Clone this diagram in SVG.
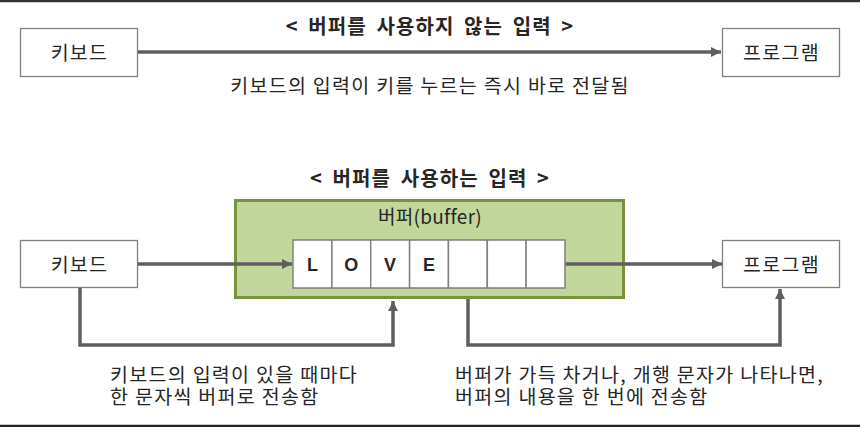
<svg xmlns="http://www.w3.org/2000/svg" width="860" height="427" viewBox="0 0 860 427">
<style>
text{font-family:"Noto Sans CJK KR","Noto Sans",sans-serif;fill:#262626;font-size:19.5px;letter-spacing:1.3px}
.t{font-weight:bold;text-anchor:middle;font-size:20px;word-spacing:4px;letter-spacing:1.1px}
.c{text-anchor:middle}
.box{fill:#fff;stroke:#808080;stroke-width:1.3}
.cell{fill:#fff;stroke:#808080;stroke-width:1.5}
.ltr{font-family:"Liberation Sans",Arial,sans-serif;font-weight:bold;font-size:18px;text-anchor:middle;letter-spacing:0}
.con{fill:none;stroke:#5f5f5f;stroke-width:3.5}
</style>
<defs>
<marker id="ah" markerUnits="userSpaceOnUse" markerWidth="11" markerHeight="11" refX="10" refY="5" orient="auto">
<path d="M0,0 L10,5 L0,10 z" fill="#5f5f5f"/>
</marker>
</defs>
<rect width="860" height="427" fill="#fff"/>
<line x1="0" y1="1" x2="860" y2="1" stroke="#333" stroke-width="2.5"/>
<line x1="0" y1="426" x2="860" y2="426" stroke="#222" stroke-width="2.5"/>

<text class="t" x="430" y="34">&lt; 버퍼를 사용하지 않는 입력 &gt;</text>
<text class="c" x="430" y="93">키보드의 입력이 키를 누르는 즉시 바로 전달됨</text>
<text class="t" x="430" y="186">&lt; 버퍼를 사용하는 입력 &gt;</text>

<g id="kbd1"><rect class="box" x="20.5" y="28.5" width="117" height="48"/><text class="c" x="79.5" y="59.5">키보드</text></g>
<g id="prog1"><rect class="box" x="722.5" y="28.5" width="117" height="48"/><text class="c" x="781.5" y="59.5">프로그램</text></g>

<g id="buffer">
<rect x="235.5" y="200.5" width="388" height="97" fill="#c3d69b" stroke="#77933c" stroke-width="3"/>
<text class="c" x="430" y="224" style="font-size:19px;letter-spacing:0.3px">버퍼(buffer)</text>
</g>

<g id="kbd2"><rect class="box" x="20.5" y="240.5" width="117" height="47"/><text class="c" x="79.5" y="271.5">키보드</text></g>
<g id="prog2"><rect class="box" x="722.5" y="240.5" width="117" height="47"/><text class="c" x="781.5" y="271.5">프로그램</text></g>

<g id="connectors">
<path class="con" d="M138,52 H721" marker-end="url(#ah)"/>
<path class="con" d="M138,264 H292" marker-end="url(#ah)"/>
<path class="con" d="M565,264 H722" marker-end="url(#ah)"/>
<path class="con" d="M80,288 V345 H393 V301" marker-end="url(#ah)"/>
<path class="con" d="M468,299 V345 H780 V289" marker-end="url(#ah)"/>
</g>

<g id="cells">
<rect class="cell" x="293" y="240" width="38.9" height="48"/>
<rect class="cell" x="331.9" y="240" width="38.9" height="48"/>
<rect class="cell" x="370.7" y="240" width="38.9" height="48"/>
<rect class="cell" x="409.6" y="240" width="38.9" height="48"/>
<rect class="cell" x="448.4" y="240" width="38.9" height="48"/>
<rect class="cell" x="487.3" y="240" width="38.9" height="48"/>
<rect class="cell" x="526.1" y="240" width="38.9" height="48"/>
<text class="ltr" x="312.4" y="270.5">L</text>
<text class="ltr" x="351.3" y="270.5">O</text>
<text class="ltr" x="390.1" y="270.5">V</text>
<text class="ltr" x="429" y="270.5">E</text>
</g>

<g id="note1">
<text x="110" y="382">키보드의 입력이 있을 때마다</text>
<text x="110" y="404">한 문자씩 버퍼로 전송함</text>
</g>
<g id="note2">
<text x="455" y="382">버퍼가 가득 차거나, 개행 문자가 나타나면,</text>
<text x="455" y="404">버퍼의 내용을 한 번에 전송함</text>
</g>
</svg>
